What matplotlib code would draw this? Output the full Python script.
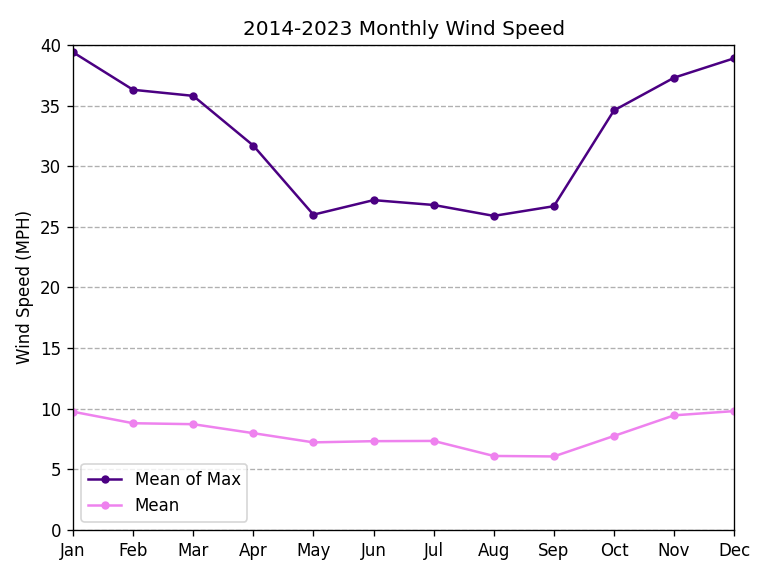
import matplotlib
matplotlib.use("Agg")
import matplotlib.pyplot as plt

months = ["Jan", "Feb", "Mar", "Apr", "May", "Jun", "Jul", "Aug", "Sep", "Oct", "Nov", "Dec"]
mean_of_max = [39.4, 36.3, 35.8, 31.7, 26.0, 27.2, 26.8, 25.9, 26.7, 34.6, 37.3, 38.9]
mean = [9.75, 8.8, 8.72, 7.98, 7.22, 7.32, 7.34, 6.1, 6.06, 7.75, 9.45, 9.8]

fig, ax = plt.subplots(figsize=(6.4, 4.8), dpi=120)
ax.plot(months, mean_of_max, color="indigo", marker="o", markersize=4, label="Mean of Max")
ax.plot(months, mean, color="violet", marker="o", markersize=4, label="Mean")
ax.set_ylim(0, 40)
ax.set_xlim(0, len(months) - 1)
ax.yaxis.grid(True, linestyle="--", color="#b0b0b0")
ax.set_axisbelow(True)
ax.set_ylabel("Wind Speed (MPH)")
ax.set_title("2014-2023 Monthly Wind Speed")
ax.legend(loc="lower left")
fig.subplots_adjust(left=0.095, right=0.956, top=0.922, bottom=0.08)
fig.savefig("out.png", dpi=120)
